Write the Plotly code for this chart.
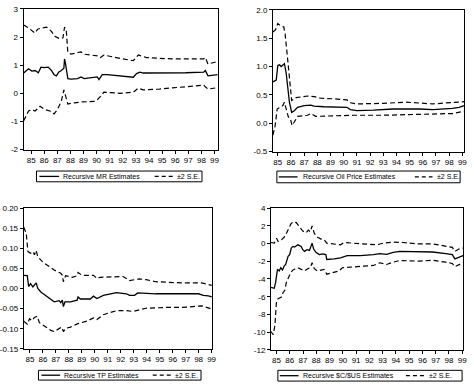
import plotly.graph_objects as go

# ---------------- data ----------------
tick_vals = list(range(85, 100))
tick_text = [str(v) for v in tick_vals]

# Panel 1: Recursive MR estimates
mr_x = [84.43, 84.8, 85.05, 85.3, 85.55, 85.75, 86.0, 86.3, 86.55, 86.75, 86.93, 87.1, 87.3,
        87.43, 87.5, 87.55, 87.63, 87.8, 88.05, 88.55, 88.8, 89.05, 89.8, 90.05, 90.18, 90.43,
        90.8, 91.8, 92.8, 93.05, 93.3, 93.55, 94.8, 95.8, 96.8, 98.18, 98.3, 98.5, 98.8, 99.25]
mr_est = [0.72, 0.87, 0.79, 0.81, 0.73, 0.93, 0.91, 0.93, 0.81, 0.66, 0.62, 0.75, 0.81,
          0.87, 0.89, 1.22, 1.04, 0.52, 0.50, 0.52, 0.58, 0.52, 0.55, 0.58, 0.49, 0.66,
          0.66, 0.62, 0.57, 0.70, 0.75, 0.72, 0.72, 0.71, 0.73, 0.75, 0.81, 0.62, 0.64, 0.66]
mr_up_x = [84.43, 84.8, 85.3, 85.5, 85.8, 86.18, 86.55, 86.8, 87.18, 87.43, 87.55, 87.68, 87.8,
           88.05, 88.55, 88.8, 89.05, 90.05, 90.3, 90.55, 91.8, 92.8, 93.18, 93.8, 95.8, 98.18,
           98.3, 98.5, 99.25]
mr_up = [2.43, 2.32, 2.14, 2.28, 2.32, 2.35, 2.20, 2.03, 1.94, 1.97, 2.35, 2.26, 1.45,
         1.39, 1.45, 1.47, 1.39, 1.33, 1.27, 1.36, 1.24, 1.16, 1.36, 1.27, 1.22, 1.22,
         1.27, 1.04, 1.13]
mr_lo_x = [84.43, 84.8, 85.05, 85.3, 85.68, 86.05, 86.43, 86.75, 87.0, 87.3, 87.5, 87.6, 87.8,
           88.3, 88.8, 89.8, 90.05, 90.3, 90.55, 91.8, 92.8, 93.18, 93.55, 94.8, 96.55, 98.18,
           98.3, 98.5, 99.25]
mr_lo = [-0.98, -0.63, -0.58, -0.63, -0.46, -0.58, -0.63, -0.73, -0.58, -0.29, 0.12, -0.06, -0.38,
         -0.34, -0.31, -0.29, -0.23, -0.11, 0.04, 0.00, 0.04, 0.18, 0.12, 0.15, 0.23, 0.29,
         0.23, 0.15, 0.20]

# Panel 2: Recursive oil price estimates
oil_x = [84.63, 84.88, 85.0, 85.13, 85.25, 85.38, 85.5, 85.63, 85.75, 85.88, 86.05, 86.25, 86.5,
         87.0, 87.5, 87.75, 88.5, 89.25, 90.25, 90.5, 91.0, 92.25, 93.75, 95.75, 96.75, 98.25,
         98.75, 99.13]
oil_est = [0.73, 0.76, 1.02, 1.03, 1.00, 1.03, 1.05, 0.89, 0.63, 0.37, 0.19, 0.22, 0.28,
           0.31, 0.32, 0.30, 0.29, 0.28, 0.28, 0.24, 0.22, 0.23, 0.25, 0.25, 0.24, 0.26,
           0.28, 0.31]
oil_up_x = [84.63, 84.83, 85.0, 85.13, 85.25, 85.45, 85.55, 85.7, 85.88, 86.05, 86.38, 87.25,
            87.75, 88.25, 89.25, 90.25, 90.5, 91.0, 93.0, 94.75, 96.75, 98.25, 99.13]
oil_up = [1.61, 1.65, 1.76, 1.73, 1.71, 1.70, 1.58, 1.24, 0.77, 0.40, 0.45, 0.48,
          0.47, 0.44, 0.43, 0.41, 0.36, 0.34, 0.35, 0.37, 0.34, 0.36, 0.38]
oil_lo_x = [84.63, 84.8, 84.95, 85.13, 85.38, 85.5, 85.63, 85.8, 85.95, 86.08, 86.25, 86.5,
            87.25, 87.5, 87.88, 89.25, 90.75, 93.0, 95.75, 98.25, 99.13]
oil_lo = [-0.21, -0.04, 0.25, 0.28, 0.31, 0.37, 0.25, 0.11, 0.08, -0.04, 0.02, 0.12,
          0.14, 0.17, 0.12, 0.13, 0.14, 0.14, 0.15, 0.17, 0.21]

# Panel 3: Recursive TP estimates
tp_x = [84.52, 84.8, 84.9, 85.05, 85.23, 85.35, 85.48, 85.61, 85.86, 86.24, 86.62, 86.87, 87.25,
        87.38, 87.5, 87.58, 87.7, 88.13, 88.64, 88.71, 88.89, 89.65, 89.9, 90.16, 90.66, 91.67,
        92.43, 92.68, 93.06, 93.31, 94.7, 96.73, 97.99, 98.37, 98.75, 99.02]
tp_est = [0.033, 0.032, 0.005, 0.012, 0.004, 0.009, 0.014, 0.000, -0.009, -0.018, -0.026, -0.033, -0.030,
          -0.035, -0.029, -0.045, -0.033, -0.033, -0.029, -0.021, -0.026, -0.026, -0.019, -0.025, -0.017, -0.010,
          -0.013, -0.017, -0.017, -0.011, -0.013, -0.014, -0.013, -0.017, -0.018, -0.021]
tp_up_x = [84.52, 84.72, 84.85, 85.05, 85.23, 85.35, 85.48, 85.61, 85.99, 86.36, 86.87, 87.38,
           87.5, 87.58, 87.75, 88.26, 88.64, 88.71, 89.02, 89.9, 90.16, 90.41, 92.18, 92.68,
           93.44, 93.95, 94.7, 96.73, 98.24, 99.02]
tp_up = [0.153, 0.137, 0.092, 0.088, 0.092, 0.084, 0.095, 0.079, 0.066, 0.058, 0.046, 0.038,
         0.033, 0.017, 0.032, 0.028, 0.032, 0.040, 0.033, 0.033, 0.025, 0.028, 0.030, 0.020,
         0.024, 0.022, 0.017, 0.014, 0.014, 0.008]
tp_lo_x = [84.52, 84.8, 84.97, 85.15, 85.35, 85.56, 85.73, 86.11, 86.62, 86.87, 87.25, 87.45,
           87.58, 87.75, 88.13, 88.64, 89.4, 89.9, 90.16, 90.66, 91.67, 92.43, 92.94, 93.95,
           95.46, 96.73, 98.24, 99.02]
tp_lo = [-0.081, -0.089, -0.075, -0.080, -0.072, -0.069, -0.085, -0.093, -0.104, -0.107, -0.099, -0.096,
         -0.107, -0.099, -0.096, -0.088, -0.081, -0.073, -0.077, -0.065, -0.055, -0.055, -0.057, -0.049,
         -0.047, -0.047, -0.043, -0.051]

# Panel 4: Recursive $C/$US estimates
cad_x = [84.58, 84.83, 84.93, 85.07, 85.2, 85.32, 85.45, 85.57, 85.69, 85.87, 85.99, 86.11, 86.24,
         86.36, 86.61, 86.86, 86.98, 87.11, 87.3, 87.48, 87.55, 87.68, 87.8, 87.97, 88.22, 88.47,
         88.72, 88.79, 89.34, 89.71, 89.83, 90.33, 91.32, 92.31, 92.8, 93.3, 93.8, 94.29, 95.28,
         95.78, 96.77, 97.76, 98.26, 98.45, 98.75, 99.07]
cad_est = [-4.94, -5.05, -4.39, -2.91, -3.10, -2.73, -2.98, -2.54, -2.36, -1.43, -1.25, -0.51, -0.32,
           -0.40, -0.14, -0.32, -0.69, -0.88, -0.69, -0.77, -0.51, 0.05, -0.62, -0.99, -1.25, -1.17,
           -1.25, -1.80, -1.73, -1.69, -1.62, -1.36, -1.36, -1.25, -1.14, -1.21, -0.99, -0.88, -0.88,
           -0.95, -0.95, -1.14, -1.25, -1.73, -1.51, -1.36]
cad_up_x = [84.58, 84.83, 85.0, 85.12, 85.37, 85.57, 85.74, 85.92, 86.07, 86.24, 86.49, 86.73,
            86.98, 87.23, 87.4, 87.55, 87.68, 87.85, 88.1, 88.47, 88.59, 88.79, 89.34, 89.83,
            90.08, 90.82, 91.81, 92.56, 93.05, 93.8, 94.54, 95.53, 96.77, 97.76, 98.26, 98.45,
            98.75, 99.07]
cad_up = [0.12, 0.05, 0.60, 0.23, 0.42, 0.71, 1.15, 1.71, 2.19, 2.45, 2.37, 1.89,
          1.41, 1.23, 1.52, 1.34, 2.00, 1.15, 0.71, 0.42, 0.42, 0.05, -0.07, -0.14,
          0.12, 0.05, -0.07, -0.14, 0.05, 0.16, 0.12, -0.03, -0.03, -0.32, -0.43, -0.88,
          -0.62, -0.51]
cad_lo_x = [84.58, 84.75, 84.88, 85.0, 85.12, 85.37, 85.5, 85.62, 85.74, 85.87, 86.07, 86.24,
            86.61, 86.86, 87.11, 87.35, 87.55, 87.68, 87.85, 88.1, 88.47, 88.59, 88.79, 89.34,
            89.71, 89.96, 91.32, 92.31, 92.8, 93.3, 93.8, 94.29, 95.78, 96.77, 97.76, 98.26,
            98.45, 98.75, 99.07]
cad_lo = [-9.93, -10.30, -9.19, -6.42, -6.24, -6.05, -5.50, -5.31, -4.39, -4.02, -3.28, -2.98,
          -2.73, -2.91, -3.10, -2.84, -2.73, -2.17, -2.84, -3.10, -2.98, -2.91, -3.46, -3.28,
          -3.10, -2.73, -2.61, -2.47, -2.17, -2.36, -2.10, -1.91, -1.99, -1.88, -2.10, -2.25,
          -2.61, -2.36, -2.17]

panel_names = ["Recursive MR Estimates", "Recursive Oil Price Estimates",
               "Recursive TP Estimates", "Recursive $C/$US Estimates"]
band_name = "±2 S.E."

# y axis ticks
y1_ticks = [3, 2, 1, 0, -1, -2]
y1_text = ["3", "2", "1", "0", "-1", "-2"]
y2_ticks = [2.0, 1.5, 1.0, 0.5, 0.0, -0.5]
y2_text = ["2.0", "1.5", "1.0", "0.5", "0.0", "-0.5"]
y3_ticks = [0.20, 0.15, 0.10, 0.05, 0.00, -0.05, -0.10, -0.15]
y3_text = ["0.20", "0.15", "0.10", "0.05", "0.00", "-0.05", "-0.10", "-0.15"]
y4_ticks = [4, 2, 0, -2, -4, -6, -8, -10, -12]
y4_text = ["4", "2", "0", "-2", "-4", "-6", "-8", "-10", "-12"]

# ---------------- layout geometry (pixels) ----------------
W, H = 474, 389
FONT = "Liberation Sans, Arial, sans-serif"

panels = [
    dict(est=(mr_x, mr_est), up=(mr_up_x, mr_up), lo=(mr_lo_x, mr_lo),
         box=(22, 5, 219, 149), xr=(84.43, 99.25), yr=(-2, 3), yt=(y1_ticks, y1_text),
         leg=dict(box=(35, 171, 203, 182), solid=(38, 58), t1=60, dash=(155, 174), t2=176)),
    dict(est=(oil_x, oil_est), up=(oil_up_x, oil_up), lo=(oil_lo_x, oil_lo),
         box=(275, 6, 469, 151), xr=(84.63, 99.13), yr=(-0.5, 2.0), yt=(y2_ticks, y2_text),
         leg=dict(box=(279, 171, 465, 183), solid=(281, 300), t1=303, dash=(419, 437), t2=439)),
    dict(est=(tp_x, tp_est), up=(tp_up_x, tp_up), lo=(tp_lo_x, tp_lo),
         box=(22, 209, 213, 353), xr=(84.52, 99.02), yr=(-0.15, 0.20), yt=(y3_ticks, y3_text),
         leg=dict(box=(37, 375, 202, 385), solid=(40, 59), t1=61, dash=(153, 172), t2=174)),
    dict(est=(cad_x, cad_est), up=(cad_up_x, cad_up), lo=(cad_lo_x, cad_lo),
         box=(273, 209, 468, 354), xr=(84.58, 99.07), yr=(-12, 4), yt=(y4_ticks, y4_text),
         leg=dict(box=(280, 375, 467, 386), solid=(282, 301), t1=303, dash=(410, 429), t2=431)),
]

fig = go.Figure()
shapes, annotations = [], []

def px_x(v):
    return v / W

def px_y(v):
    return 1 - v / H

for i, p in enumerate(panels):
    n = "" if i == 0 else str(i + 1)
    xa, ya = "x" + n, "y" + n
    for key, dash, w in (("est", "solid", 1.3), ("up", "5px,3px", 1.2), ("lo", "5px,3px", 1.2)):
        xs, ys = p[key]
        fig.add_trace(go.Scatter(x=xs, y=ys, mode="lines", xaxis=xa, yaxis=ya,
                                 line=dict(color="black", width=w, dash=dash),
                                 name=panel_names[i] if key == "est" else band_name,
                                 showlegend=False, hoverinfo="skip"))
    x0, y0, x1, y1 = p["box"]
    axis_common = dict(showgrid=False, zeroline=False, showline=True, mirror=True,
                       linecolor="black", linewidth=1, ticks="outside", ticklen=3,
                       tickwidth=1, tickcolor="black",
                       tickfont=dict(family=FONT, size=8, color="black"))
    fig.layout["xaxis" + n] = dict(domain=[px_x(x0), px_x(x1)], range=list(p["xr"]),
                                   anchor=ya, tickmode="array", tickvals=tick_vals,
                                   ticktext=tick_text, **axis_common)
    fig.layout["yaxis" + n] = dict(domain=[px_y(y1), px_y(y0)], range=list(p["yr"]),
                                   anchor=xa, tickmode="array", tickvals=p["yt"][0],
                                   ticktext=p["yt"][1], **axis_common)
    # legend box
    L = p["leg"]
    bx0, by0, bx1, by1 = L["box"]
    ym = (by0 + by1) / 2
    shapes.append(dict(type="rect", xref="paper", yref="paper",
                       x0=px_x(bx0), x1=px_x(bx1), y0=px_y(by1), y1=px_y(by0),
                       line=dict(color="black", width=1), fillcolor="white"))
    shapes.append(dict(type="line", xref="paper", yref="paper",
                       x0=px_x(L["solid"][0]), x1=px_x(L["solid"][1]), y0=px_y(ym), y1=px_y(ym),
                       line=dict(color="black", width=1.3)))
    shapes.append(dict(type="line", xref="paper", yref="paper",
                       x0=px_x(L["dash"][0]), x1=px_x(L["dash"][1]), y0=px_y(ym), y1=px_y(ym),
                       line=dict(color="black", width=1.2, dash="4px,3px")))
    annotations.append(dict(text=panel_names[i], xref="paper", yref="paper",
                            x=px_x(L["t1"]), y=px_y(ym), xanchor="left", yanchor="middle",
                            showarrow=False, font=dict(family=FONT, size=7, color="black")))
    annotations.append(dict(text=band_name, xref="paper", yref="paper",
                            x=px_x(L["t2"]), y=px_y(ym), xanchor="left", yanchor="middle",
                            showarrow=False, font=dict(family=FONT, size=7, color="black")))

fig.update_layout(width=W, height=H, margin=dict(l=0, r=0, t=0, b=0),
                  paper_bgcolor="white", plot_bgcolor="white", showlegend=False,
                  shapes=shapes, annotations=annotations)

fig.write_html("out.html", config={"displayModeBar": False, "staticPlot": True},
               post_script="document.body.style.margin='0px';")
